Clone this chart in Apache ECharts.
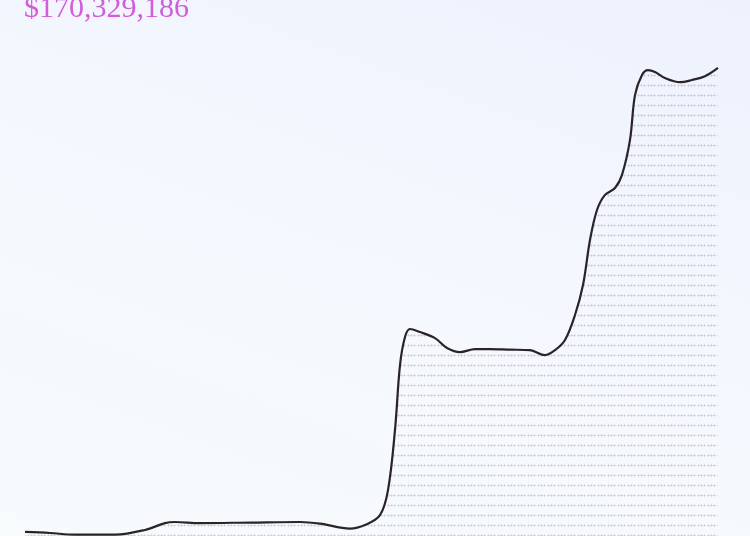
<!DOCTYPE html>
<html>
<head>
<meta charset="utf-8">
<script src="https://cdn.jsdelivr.net/npm/echarts@6/dist/echarts.min.js"></script>
<style>
html,body{margin:0;padding:0;width:750px;height:536px;overflow:hidden;}
body{background:linear-gradient(200deg,#eef2fd 0%,#f4f7fd 45%,#f8fbfc 100%);}
#c{width:750px;height:536px;}
</style>
</head>
<body>
<div id="c"></div>
<script>
// Data (values in $ millions), x = day index
const titleText = "$170,329,186";
const xValues = [0,25,50,90,120,140,150,175,225,275,295,325,340,355,363,370,375,380,385,395,410,422,435,450,465,485,505,520,530,540,550,558,565,572,580,590,597,605,610,617,623,630,640,655,667,680,693];
const yValues = [1.5,1.1,0.5,0.5,2.2,4.7,5.1,4.7,4.9,5.1,4.5,2.7,4.0,7.6,16.7,38.6,62.2,72.4,75.3,74.2,72.0,68.4,66.9,68.0,68.0,67.8,67.6,65.8,67.6,71.3,80.4,91.3,107.7,118.6,124.1,126.6,131.4,144.1,160.4,167.7,169.5,168.8,166.6,165.1,165.9,167.3,170.33];

const seriesData = xValues.map((x,i)=>[x,yValues[i]]);

// texture for the area: tiny "+" marks in rows
const pc = document.createElement('canvas');
pc.width = 40; pc.height = 10;
const g = pc.getContext('2d');
g.fillStyle = 'rgba(125,125,135,0.20)';
for (let i=0;i<12;i++) {
  const cx = Math.round(i*3.33)+1, cy = 5;
  g.fillRect(cx, cy-1, 1, 3);
  g.fillRect(cx-1, cy, 3, 1);
}

const chart = echarts.init(document.getElementById('c'), null, {renderer:'canvas'});
chart.setOption({
  backgroundColor: 'transparent',
  animation: false,
  title: {
    text: titleText,
    left: 19, top: -11,
    textStyle: {fontFamily:'Liberation Serif', fontSize:30, fontWeight:'normal', color:'#d35cdc'}
  },
  grid: {left:25, right:32, top:0, bottom:0, containLabel:false},
  xAxis: {type:'value', min:0, max:693, show:false},
  yAxis: {type:'value', min:0, max:195, show:false},
  series: [{
    type:'line',
    data: seriesData,
    smooth: 0.35,
    showSymbol:false,
    lineStyle:{color:'#2a2428', width:2.2},
    areaStyle:{color:{image:pc, repeat:'repeat'}, opacity:1}
  }]
});
</script>
</body>
</html>
